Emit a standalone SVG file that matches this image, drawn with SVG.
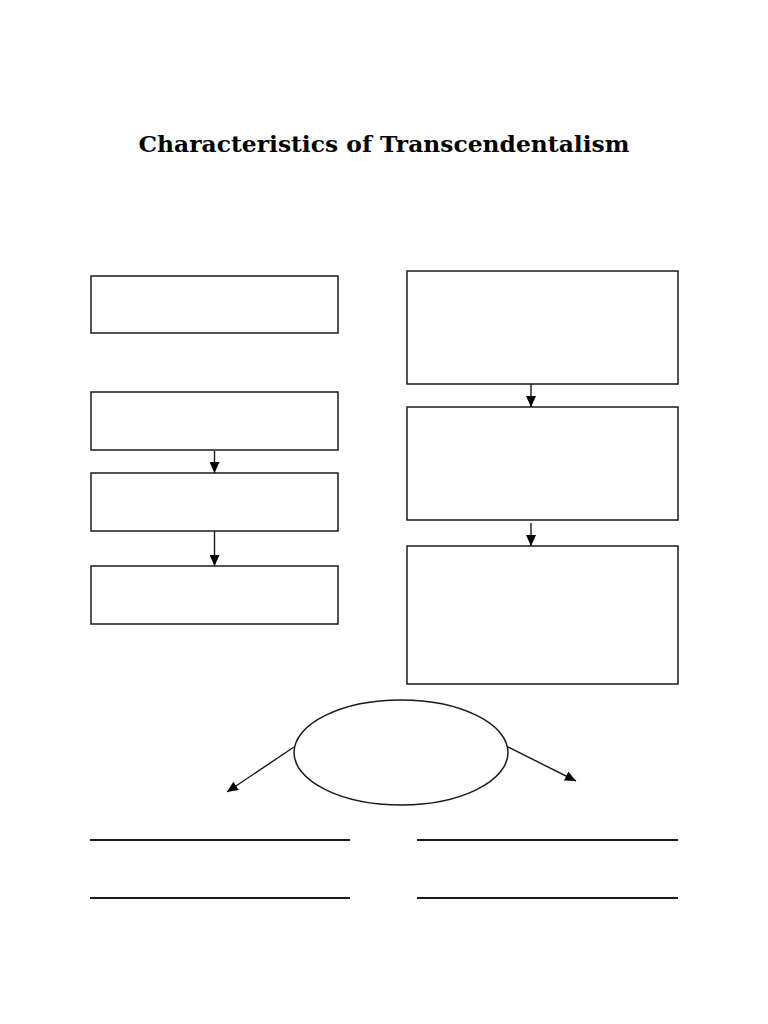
<svg xmlns="http://www.w3.org/2000/svg" width="768" height="1024" viewBox="0 0 768 1024">
<style>
.box{fill:#fff;stroke:#1a1a1a;stroke-width:1.5}
.ln{stroke:#1a1a1a;stroke-width:1.4;fill:none}
.rule{stroke:#1a1a1a;stroke-width:1.8}
.title{font-family:"DejaVu Serif","Liberation Serif",serif;font-weight:bold;font-size:23px;fill:#000}
</style>
<defs>
<marker id="ah" viewBox="0 0 11 10" refX="11" refY="5" markerWidth="11" markerHeight="10" markerUnits="userSpaceOnUse" orient="auto">
<path d="M0,0 L11,5 L0,10 Z" fill="#000"/>
</marker>
</defs>
<rect width="768" height="1024" fill="#fff"/>
<text class="title" x="384" y="152" text-anchor="middle" textLength="491" lengthAdjust="spacingAndGlyphs">Characteristics of Transcendentalism</text>
<g id="L1"><rect class="box" x="91" y="276" width="247" height="57"/></g>
<g id="L2"><rect class="box" x="91" y="392" width="247" height="58"/></g>
<g id="L3"><rect class="box" x="91" y="473" width="247" height="58"/></g>
<g id="L4"><rect class="box" x="91" y="566" width="247" height="58"/></g>
<g id="R1"><rect class="box" x="407" y="271" width="271" height="113"/></g>
<g id="R2"><rect class="box" x="407" y="407" width="271" height="113"/></g>
<g id="R3"><rect class="box" x="407" y="546" width="271" height="138"/></g>
<g id="E"><ellipse class="box" cx="401" cy="752.5" rx="107" ry="52.5"/></g>
<g id="rules">
<line class="rule" x1="90" y1="840" x2="350" y2="840"/>
<line class="rule" x1="90" y1="898" x2="350" y2="898"/>
<line class="rule" x1="417" y1="840" x2="678" y2="840"/>
<line class="rule" x1="417" y1="898" x2="678" y2="898"/>
</g>
<g id="connectors">
<line class="ln" x1="214.5" y1="451" x2="214.5" y2="473" marker-end="url(#ah)"/>
<line class="ln" x1="214.5" y1="531" x2="214.5" y2="566" marker-end="url(#ah)"/>
<line class="ln" x1="531" y1="384" x2="531" y2="407" marker-end="url(#ah)"/>
<line class="ln" x1="531" y1="523" x2="531" y2="546" marker-end="url(#ah)"/>
<line class="ln" x1="294" y1="747" x2="227" y2="792" marker-end="url(#ah)"/>
<line class="ln" x1="508" y1="747" x2="576" y2="781" marker-end="url(#ah)"/>
</g>
</svg>
